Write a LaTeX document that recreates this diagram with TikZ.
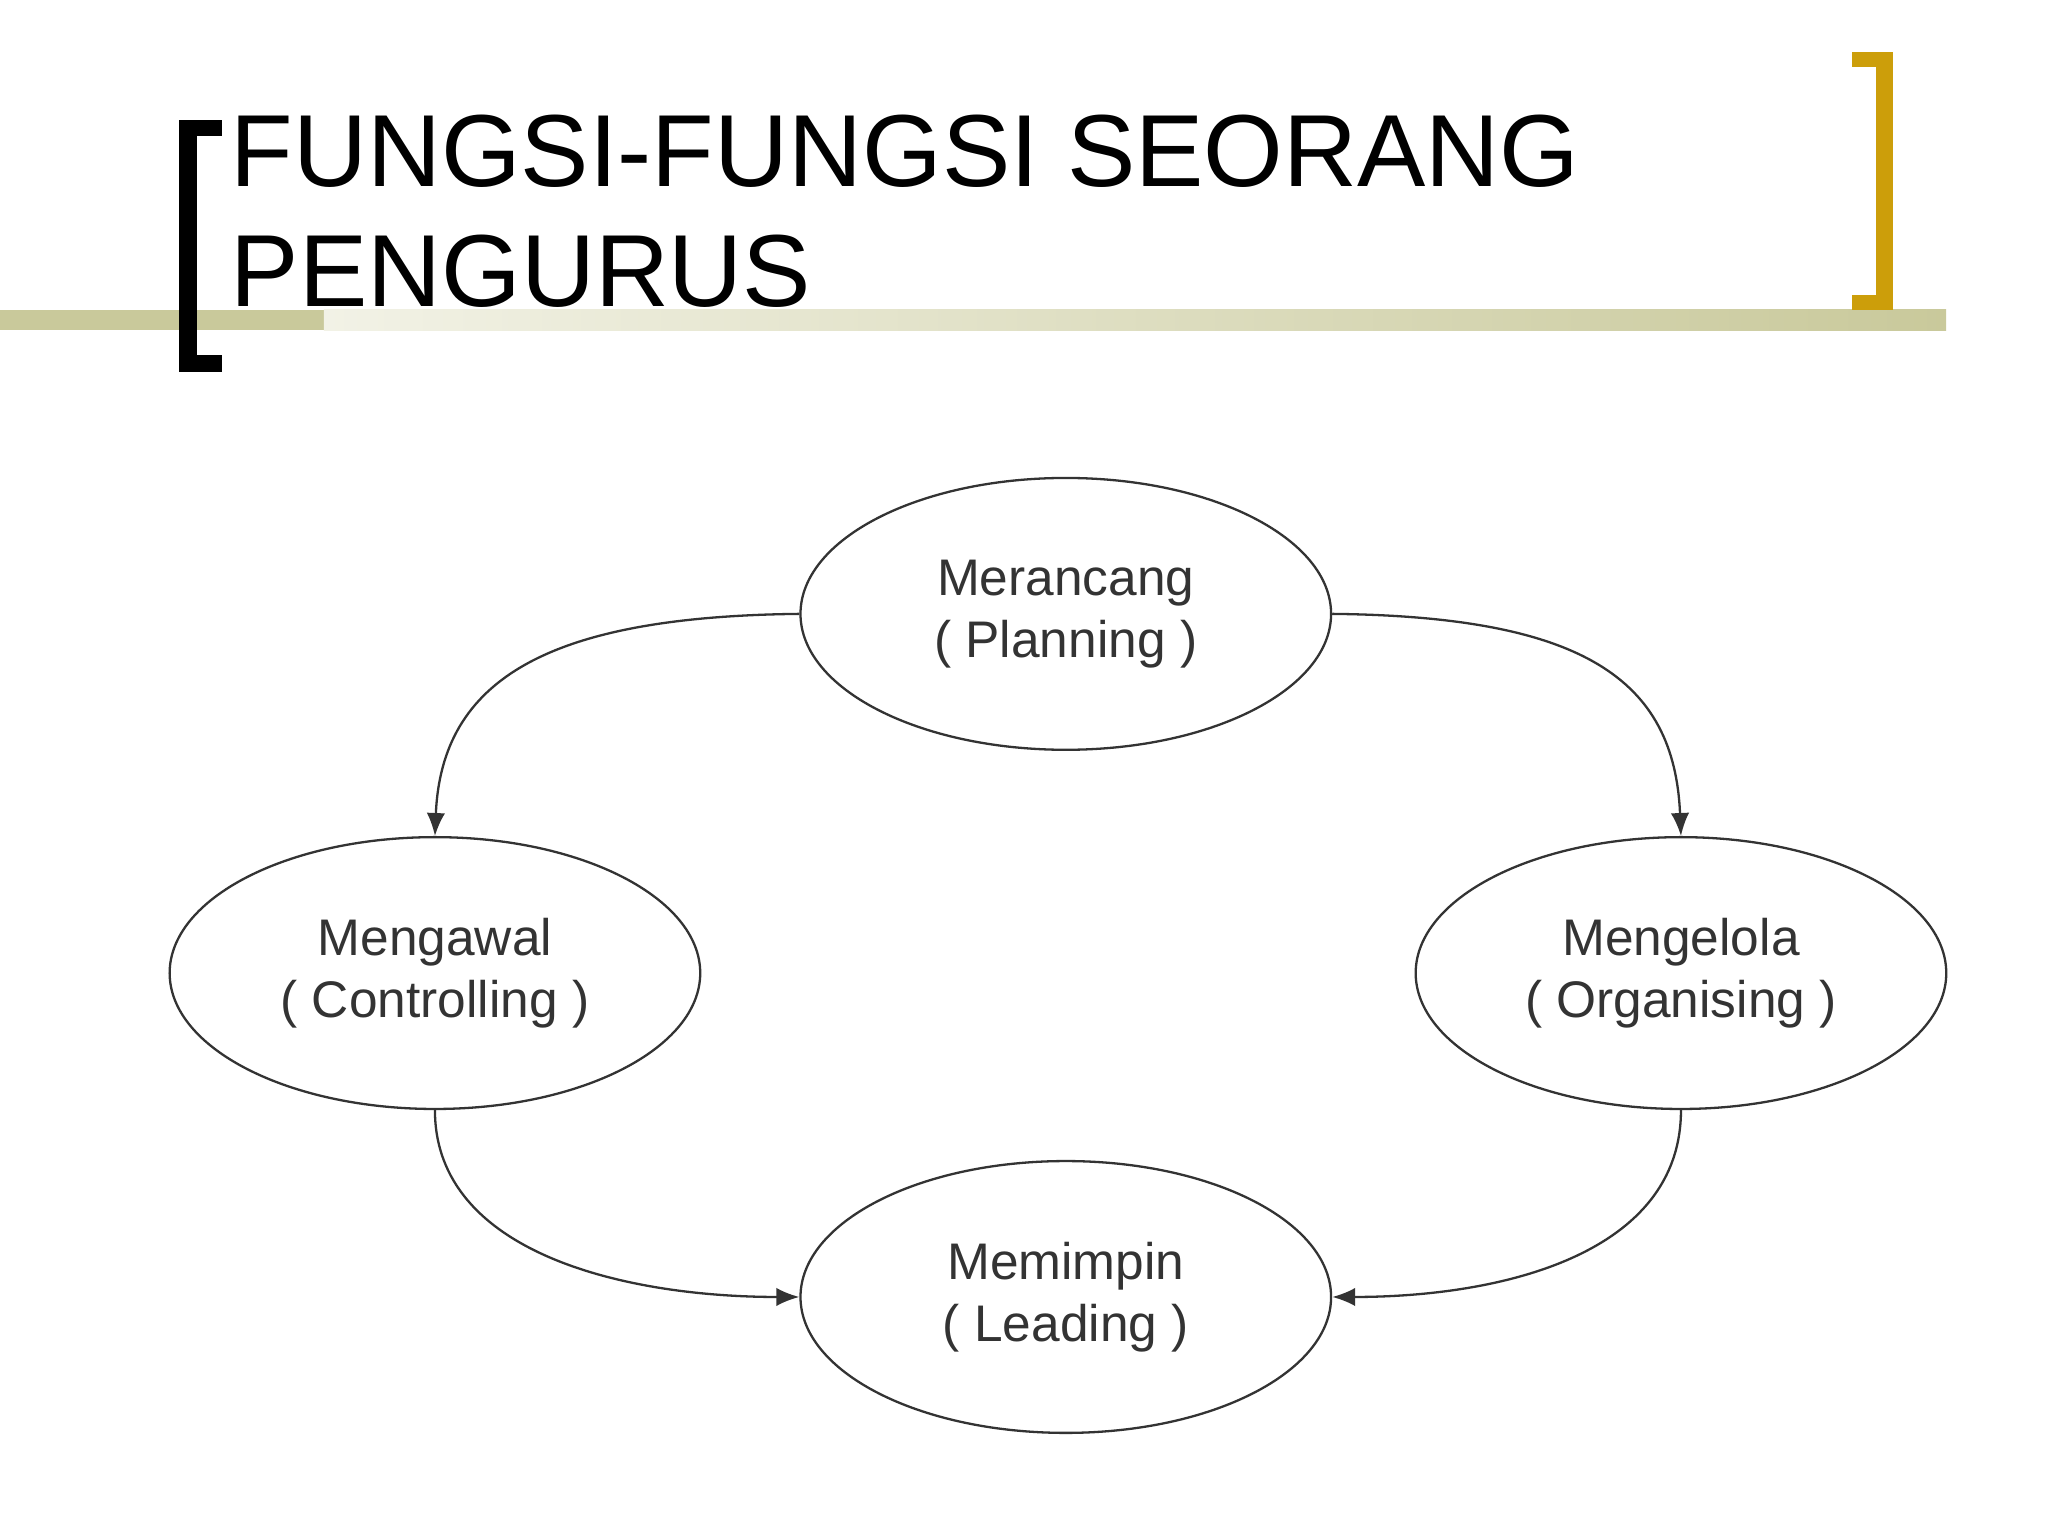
\documentclass[tikz,border=0pt]{standalone}
\usepackage{fontspec}
\setmainfont{Liberation Sans}
\usetikzlibrary{shapes.geometric,arrows.meta}
\definecolor{oliveline}{HTML}{C9C99B}
\definecolor{oliveLight}{HTML}{F2F2E6}
\definecolor{goldb}{HTML}{CC9E0A}
\begin{document}
\begin{tikzpicture}[x=0.01cm,y=-0.01cm,
  box/.style={draw=black!80,line width=0.5pt,ellipse,minimum width=4.06cm,minimum height=2.08cm,inner sep=0pt,align=center,font=\fontsize{11.2pt}{13.5pt}\selectfont,text=black!80},
  conn/.style={draw=black!80,line width=0.5pt,-{Latex[length=5pt,width=4pt]}}]
\useasboundingbox (0,0) rectangle (1568,1176);
\fill[white] (0,0) rectangle (1568,1176);
\fill[oliveline] (0,237) rectangle (248,253);
\shade[left color=oliveLight,right color=oliveline] (248,237) rectangle (1490,253);
\fill[black] (137,92) rectangle (151,285);
\fill[black] (137,92) rectangle (170,104);
\fill[black] (137,272) rectangle (170,285);
\fill[goldb] (1436,40) rectangle (1449,237);
\fill[goldb] (1418,40) rectangle (1449,51);
\fill[goldb] (1418,226) rectangle (1449,237);
\node[anchor=base west,inner sep=0pt,font=\fontsize{22.3pt}{26pt}\selectfont] (t1) at (176,143) {FUNGSI-FUNGSI SEORANG};
\node[anchor=base west,inner sep=0pt,font=\fontsize{22.3pt}{26pt}\selectfont] (t2) at (176,235) {PENGURUS};
\node[box] (p) at (816,470) {Merancang\\( Planning )};
\node[box] (c) at (333,745) {Mengawal\\( Controlling )};
\node[box] (o) at (1287,745) {Mengelola\\( Organising )};
\node[box] (l) at (816,993) {Memimpin\\( Leading )};
\draw[conn] (p.west) .. controls (420,472) and (338,520) .. (c.north);
\draw[conn] (p.east) .. controls (1212,472) and (1282,520) .. (o.north);
\draw[conn] (c.south) .. controls (333,960) and (480,993) .. (l.west);
\draw[conn] (o.south) .. controls (1287,960) and (1150,993) .. (l.east);
\end{tikzpicture}
\end{document}
